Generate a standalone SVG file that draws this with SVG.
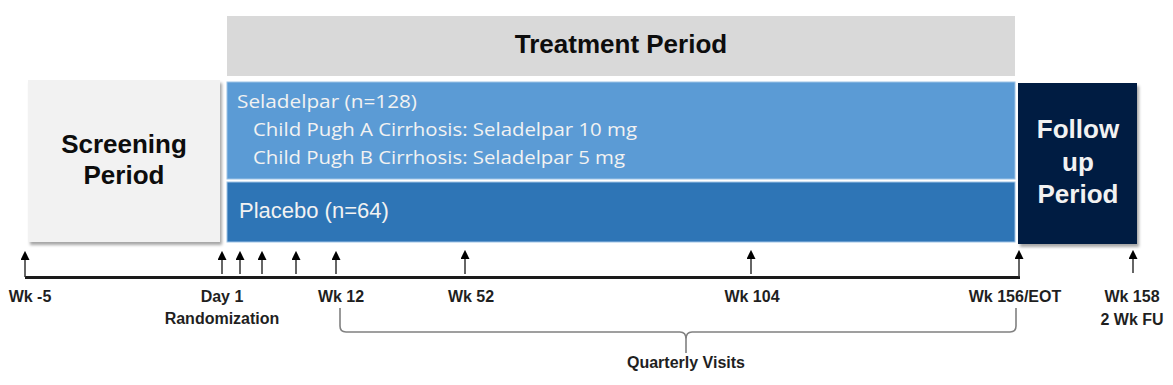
<svg xmlns="http://www.w3.org/2000/svg" width="1173" height="385" viewBox="0 0 1173 385">
<defs>
<style>
.title{font-family:"Liberation Sans",Arial,sans-serif;font-weight:bold;font-size:26px;text-anchor:middle}
.arm{font-family:"Open Sans","Liberation Sans",sans-serif;font-size:19px;fill:#f2f2f2}
.lbl{font-family:"Liberation Sans",Arial,sans-serif;font-weight:bold;font-size:16px;fill:#1f1f1f;text-anchor:middle}
.shaft{stroke:#333;stroke-width:1.5;fill:none}
.brace{stroke:#808080;stroke-width:1.6;fill:none}
</style>
<marker id="ah" viewBox="0 0 10 10" refX="1" refY="5" markerWidth="9" markerHeight="9" markerUnits="userSpaceOnUse" orient="auto">
<path d="M0,0 L10,5 L0,10 z" fill="#000"/>
</marker>
<filter id="sh" x="-10%" y="-10%" width="125%" height="125%">
<feDropShadow dx="2" dy="3" stdDeviation="1.5" flood-color="#000" flood-opacity="0.35"/>
</filter>
</defs>
<rect width="1173" height="385" fill="#fff"/>

<g id="treatment">
<rect x="227" y="16" width="788" height="60" fill="#d9d9d9"/>
<text class="title" x="621" y="53" fill="#0d0d0d">Treatment Period</text>
</g>

<g id="screening">
<rect x="28" y="80" width="192" height="162" fill="#f2f2f2" filter="url(#sh)"/>
<text class="title" x="124" y="153" fill="#0d0d0d">Screening</text>
<text class="title" x="124" y="184" fill="#0d0d0d">Period</text>
</g>

<g id="seladelpar">
<rect x="227" y="82" width="788" height="97" fill="#5b9bd5" stroke="#9dc3e6" stroke-width="1"/>
<text class="arm" x="237" y="108" textLength="180" lengthAdjust="spacingAndGlyphs">Seladelpar (n=128)</text>
<text class="arm" x="253" y="136" textLength="384" lengthAdjust="spacingAndGlyphs">Child Pugh A Cirrhosis: Seladelpar 10 mg</text>
<text class="arm" x="253" y="164" textLength="372" lengthAdjust="spacingAndGlyphs">Child Pugh B Cirrhosis: Seladelpar 5 mg</text>
</g>

<g id="placebo">
<rect x="227" y="182" width="788" height="60" fill="#2e75b6" stroke="#9dc3e6" stroke-width="1"/>
<text x="239" y="218" font-family="'Liberation Sans',Arial,sans-serif" font-size="22" fill="#f2f2f2">Placebo (n=64)</text>
</g>

<g id="followup">
<rect x="1018" y="83" width="119" height="161" fill="#021c42" filter="url(#sh)"/>
<text class="title" x="1078" y="138" fill="#f2f2f2">Follow</text>
<text class="title" x="1078" y="171" fill="#f2f2f2">up</text>
<text class="title" x="1078" y="203" fill="#f2f2f2">Period</text>
</g>

<g id="connectors">
<line x1="25" y1="277.5" x2="1020" y2="277.5" stroke="#1a1a1a" stroke-width="3"/>
<line class="shaft" x1="25" y1="277" x2="25" y2="259" marker-end="url(#ah)"/>
<line class="shaft" x1="222" y1="274" x2="222" y2="259" marker-end="url(#ah)"/>
<line class="shaft" x1="240" y1="274" x2="240" y2="259" marker-end="url(#ah)"/>
<line class="shaft" x1="262" y1="274" x2="262" y2="259" marker-end="url(#ah)"/>
<line class="shaft" x1="296" y1="274" x2="296" y2="259" marker-end="url(#ah)"/>
<line class="shaft" x1="336" y1="274" x2="336" y2="259" marker-end="url(#ah)"/>
<line class="shaft" x1="465" y1="274" x2="465" y2="258" marker-end="url(#ah)"/>
<line class="shaft" x1="751" y1="274" x2="751" y2="258" marker-end="url(#ah)"/>
<line class="shaft" x1="1019" y1="277" x2="1019" y2="258" marker-end="url(#ah)"/>
<line class="shaft" x1="1133" y1="273" x2="1133" y2="258" marker-end="url(#ah)"/>
<path class="brace" d="M340,308 L340,326 Q340,332 346,332 L680,332 Q686,332 686,339 L686,353 M686,339 Q686,332 692,332 L1010,332 Q1016,332 1016,326 L1016,308"/>
</g>

<g id="labels">
<text class="lbl" x="30" y="302">Wk -5</text>
<text class="lbl" x="222" y="302">Day 1</text>
<text class="lbl" x="222" y="324" font-size="15">Randomization</text>
<text class="lbl" x="341" y="302">Wk 12</text>
<text class="lbl" x="471" y="302">Wk 52</text>
<text class="lbl" x="752" y="302">Wk 104</text>
<text class="lbl" x="1015" y="302">Wk 156/EOT</text>
<text class="lbl" x="1132" y="302">Wk 158</text>
<text class="lbl" x="1132" y="325">2 Wk FU</text>
<text class="lbl" x="686" y="368" font-size="15" fill="#262626">Quarterly Visits</text>
</g>
</svg>
